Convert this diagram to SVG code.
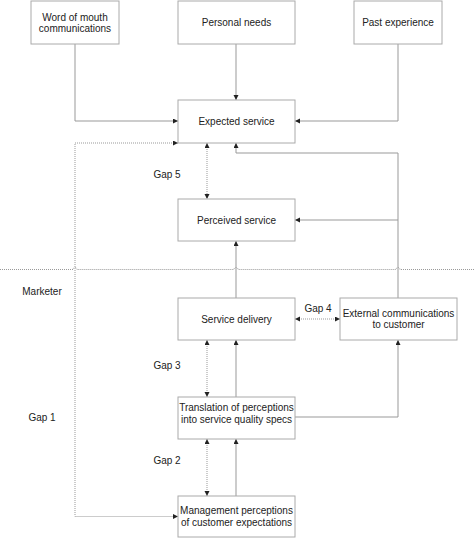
<svg xmlns="http://www.w3.org/2000/svg" width="474" height="540" viewBox="0 0 474 540">
<defs>
<marker id="ah" markerUnits="userSpaceOnUse" markerWidth="6" markerHeight="6" refX="5" refY="2.5" orient="auto-start-reverse">
<path d="M0,0 L5,2.5 L0,5 z" fill="#222"/>
</marker>
<style>
.box{fill:#fff;stroke:#aaa;stroke-width:1}
.t{font-family:"Liberation Sans",Arial,sans-serif;font-size:10px;fill:#222;text-anchor:middle}
.s{fill:none;stroke:#999;stroke-width:1}
.d{fill:none;stroke:#999;stroke-width:1;stroke-dasharray:1,1}
</style>
</defs>
<rect width="474" height="540" fill="#fff"/>
<g id="connectors">
<path class="s" d="M75,44 V121 H178" marker-end="url(#ah)"/>
<path class="s" d="M236,44 V100" marker-end="url(#ah)"/>
<path class="s" d="M398,44 V121 H295" marker-end="url(#ah)"/>
<path class="d" d="M178,143 H75 V516.5 H178" marker-start="url(#ah)" marker-end="url(#ah)"/>
<path class="d" d="M207,143 V199" marker-start="url(#ah)" marker-end="url(#ah)"/>
<path class="s" d="M398,298 V153 H236 V143" marker-end="url(#ah)"/>
<path class="s" d="M398,220 H295" marker-end="url(#ah)"/>
<path class="s" d="M236,298 V241" marker-end="url(#ah)"/>
<path class="d" d="M295,319 H340" marker-start="url(#ah)" marker-end="url(#ah)"/>
<path class="d" d="M207,340 V397" marker-start="url(#ah)" marker-end="url(#ah)"/>
<path class="s" d="M236,397 V340" marker-end="url(#ah)"/>
<path class="s" d="M295,417 H398 V340" marker-end="url(#ah)"/>
<path class="d" d="M207,439 V496" marker-start="url(#ah)" marker-end="url(#ah)"/>
<path class="s" d="M236,496 V439" marker-end="url(#ah)"/>
<path class="d" d="M0,269.5 H73 a2,2 0 0 1 4,0 H234 a2,2 0 0 1 4,0 H396 a2,2 0 0 1 4,0 H474"/>
</g>
<g id="word-of-mouth"><rect class="box" x="31" y="1" width="88" height="43"/><text class="t" x="75" y="20.5">Word of mouth</text><text class="t" x="75" y="32">communications</text></g>
<g id="personal-needs"><rect class="box" x="178" y="1" width="117" height="43"/><text class="t" x="236.5" y="26">Personal needs</text></g>
<g id="past-experience"><rect class="box" x="354" y="1" width="88" height="43"/><text class="t" x="398" y="26">Past experience</text></g>
<g id="expected-service"><rect class="box" x="178" y="100" width="117" height="43"/><text class="t" x="236.5" y="124.5">Expected service</text></g>
<g id="perceived-service"><rect class="box" x="178" y="199" width="117" height="42"/><text class="t" x="236.5" y="223.5">Perceived service</text></g>
<g id="service-delivery"><rect class="box" x="178" y="298" width="117" height="42"/><text class="t" x="236.5" y="322.5">Service delivery</text></g>
<g id="external-communications"><rect class="box" x="340" y="298" width="117" height="42"/><text class="t" x="398.5" y="317">External communications</text><text class="t" x="398.5" y="328">to customer</text></g>
<g id="translation"><rect class="box" x="178" y="397" width="117" height="42"/><text class="t" x="236.5" y="411">Translation of perceptions</text><text class="t" x="236.5" y="423">into service quality specs</text></g>
<g id="management"><rect class="box" x="178" y="496" width="117" height="41"/><text class="t" x="236.5" y="513.5">Management perceptions</text><text class="t" x="236.5" y="525.5">of customer expectations</text></g>
<g id="labels">
<text class="t" x="167" y="177.5">Gap 5</text>
<text class="t" x="42" y="294.5">Marketer</text>
<text class="t" x="318" y="311.5">Gap 4</text>
<text class="t" x="167" y="368.5">Gap 3</text>
<text class="t" x="42" y="420.5">Gap 1</text>
<text class="t" x="167" y="463.5">Gap 2</text>
</g>
</svg>
